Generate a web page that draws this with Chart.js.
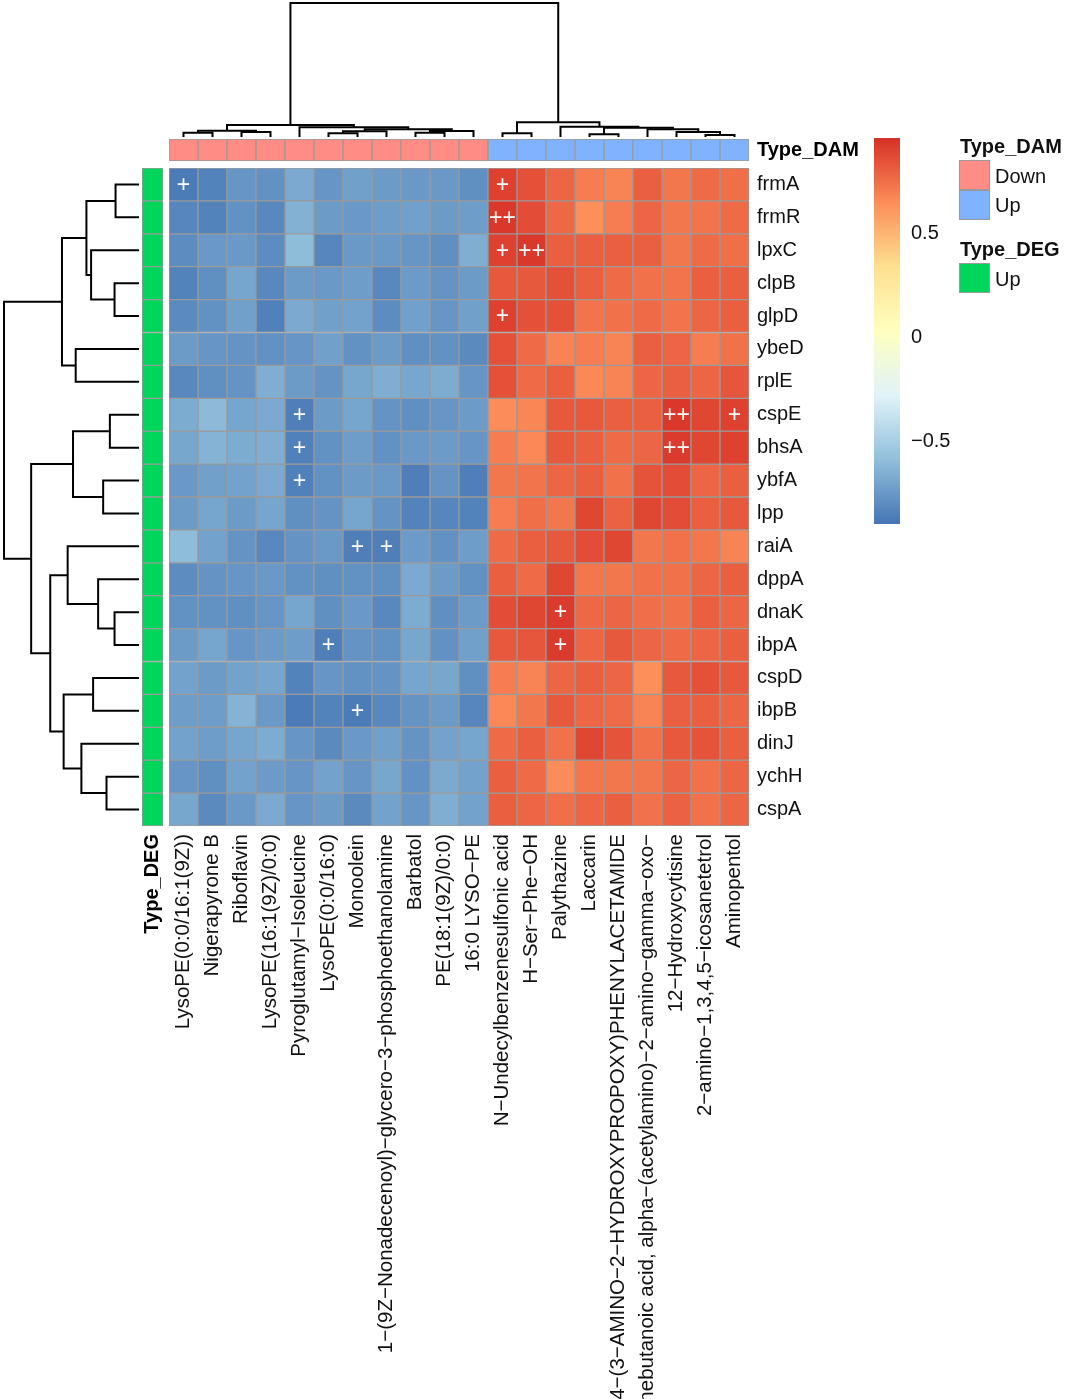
<!DOCTYPE html>
<html>
<head>
<meta charset="utf-8">
<script src="https://cdn.jsdelivr.net/npm/chart.js@4.4.1/dist/chart.umd.min.js"></script>
<style>
    html, body { margin: 0; padding: 0; background: #fff; }
    body { width: 1080px; height: 1399px; position: relative; overflow: hidden;
           font-family: 'Liberation Sans', Arial, Helvetica, sans-serif; color: #111; }
    .box { position: absolute; }
    .lg-title { position: absolute; font-weight: bold; font-size: 20px; line-height: 24px; }
    .lg-key { position: absolute; width: 29px; height: 28px; border: 1px solid #9a9a9a; }
    .lg-text { position: absolute; font-size: 20px; line-height: 24px; }
</style>
</head>
<body>

<div class="box" style="left:169px; top:0px;"><canvas id="topDendro" width="580" height="137"></canvas></div>
<div class="box" style="left:0px; top:168px;"><canvas id="leftDendro" width="139" height="658"></canvas></div>
<div class="box" style="left:169px; top:133px;"><canvas id="damBar" width="700" height="34"></canvas></div>
<div class="box" style="left:132px; top:168px;"><canvas id="degBar" width="41" height="1231"></canvas></div>
<div class="box" style="left:169px; top:168px;"><canvas id="heatmap" width="700" height="1231"></canvas></div>
<div class="box" style="left:874px; top:138px;"><canvas id="colorBar" width="92" height="386"></canvas></div>

<div class="lg-title" style="left:960px; top:134px;">Type_DAM</div>
<div class="lg-key" style="left:959px; top:160px; background:#FF8C85;"></div>
<div class="lg-text" style="left:995px; top:164px;">Down</div>
<div class="lg-key" style="left:959px; top:190px; background:#80B3FF;"></div>
<div class="lg-text" style="left:995px; top:193px;">Up</div>
<div class="lg-title" style="left:960px; top:237px;">Type_DEG</div>
<div class="lg-key" style="left:959px; top:263px; background:#00D65C;"></div>
<div class="lg-text" style="left:995px; top:267px;">Up</div>

<script>
// 数据
const colNames = [
    'LysoPE(0:0/16:1(9Z))', 'Nigerapyrone B', 'Riboflavin', 'LysoPE(16:1(9Z)/0:0)',
    'Pyroglutamyl\u2212Isoleucine', 'LysoPE(0:0/16:0)', 'Monoolein',
    '1\u2212(9Z\u2212Nonadecenoyl)\u2212glycero\u22123\u2212phosphoethanolamine', 'Barbatol',
    'PE(18:1(9Z)/0:0)', '16:0 LYSO\u2212PE', 'N\u2212Undecylbenzenesulfonic acid',
    'H\u2212Ser\u2212Phe\u2212OH', 'Palythazine', 'Laccarin',
    '4\u2212(3\u2212AMINO\u22122\u2212HYDROXYPROPOXY)PHENYLACETAMIDE',
    'Benzenebutanoic acid, alpha\u2212(acetylamino)\u22122\u2212amino\u2212gamma\u2212oxo\u2212',
    '12\u2212Hydroxycytisine', '2\u2212amino\u22121,3,4,5\u2212icosanetetrol', 'Aminopentol'
];
const rowNames = ['frmA', 'frmR', 'lpxC', 'clpB', 'glpD', 'ybeD', 'rplE', 'cspE', 'bhsA', 'ybfA',
    'lpp', 'raiA', 'dppA', 'dnaK', 'ibpA', 'cspD', 'ibpB', 'dinJ', 'ychH', 'cspA'];
const damType = ['Down', 'Down', 'Down', 'Down', 'Down', 'Down', 'Down', 'Down', 'Down', 'Down', 'Down',
    'Up', 'Up', 'Up', 'Up', 'Up', 'Up', 'Up', 'Up', 'Up'];
const degType = rowNames.map(() => 'Up');

// 每行一个基因，每列一个代谢物 (相关系数)
const cellValues = [
    [-0.87, -0.84, -0.76, -0.78, -0.68, -0.76, -0.72, -0.74, -0.75, -0.75, -0.79, 0.90, 0.85, 0.78, 0.70, 0.68, 0.80, 0.72, 0.76, 0.75],
    [-0.83, -0.84, -0.78, -0.82, -0.65, -0.74, -0.75, -0.73, -0.72, -0.74, -0.73, 0.93, 0.86, 0.77, 0.64, 0.70, 0.78, 0.72, 0.73, 0.76],
    [-0.80, -0.75, -0.75, -0.80, -0.60, -0.83, -0.75, -0.75, -0.76, -0.79, -0.66, 0.90, 0.93, 0.80, 0.80, 0.80, 0.80, 0.72, 0.76, 0.75],
    [-0.84, -0.79, -0.70, -0.82, -0.74, -0.75, -0.73, -0.82, -0.74, -0.77, -0.74, 0.82, 0.82, 0.85, 0.80, 0.76, 0.74, 0.73, 0.80, 0.80],
    [-0.81, -0.78, -0.72, -0.85, -0.68, -0.72, -0.71, -0.80, -0.72, -0.76, -0.72, 0.90, 0.85, 0.85, 0.73, 0.74, 0.76, 0.73, 0.78, 0.80],
    [-0.74, -0.76, -0.77, -0.78, -0.76, -0.72, -0.78, -0.74, -0.79, -0.78, -0.81, 0.85, 0.76, 0.68, 0.70, 0.68, 0.80, 0.78, 0.70, 0.74],
    [-0.82, -0.79, -0.77, -0.66, -0.74, -0.77, -0.69, -0.66, -0.69, -0.67, -0.76, 0.85, 0.76, 0.80, 0.66, 0.68, 0.78, 0.80, 0.78, 0.83],
    [-0.67, -0.61, -0.70, -0.68, -0.86, -0.74, -0.70, -0.77, -0.79, -0.76, -0.74, 0.65, 0.67, 0.82, 0.82, 0.80, 0.80, 0.93, 0.88, 0.90],
    [-0.69, -0.64, -0.67, -0.66, -0.85, -0.78, -0.73, -0.78, -0.75, -0.74, -0.76, 0.70, 0.66, 0.82, 0.80, 0.76, 0.78, 0.92, 0.88, 0.90],
    [-0.75, -0.72, -0.71, -0.68, -0.85, -0.78, -0.74, -0.75, -0.86, -0.77, -0.86, 0.72, 0.73, 0.78, 0.80, 0.74, 0.84, 0.86, 0.78, 0.80],
    [-0.74, -0.70, -0.74, -0.70, -0.79, -0.77, -0.70, -0.77, -0.84, -0.83, -0.84, 0.70, 0.75, 0.72, 0.88, 0.79, 0.88, 0.86, 0.80, 0.82],
    [-0.60, -0.71, -0.77, -0.82, -0.77, -0.75, -0.86, -0.86, -0.74, -0.78, -0.73, 0.76, 0.80, 0.82, 0.86, 0.88, 0.72, 0.74, 0.72, 0.68],
    [-0.80, -0.77, -0.76, -0.75, -0.78, -0.79, -0.78, -0.79, -0.68, -0.74, -0.78, 0.80, 0.76, 0.88, 0.72, 0.72, 0.74, 0.74, 0.78, 0.80],
    [-0.78, -0.78, -0.79, -0.76, -0.70, -0.79, -0.75, -0.82, -0.67, -0.79, -0.74, 0.86, 0.88, 0.92, 0.77, 0.78, 0.75, 0.74, 0.80, 0.78],
    [-0.74, -0.70, -0.76, -0.74, -0.73, -0.86, -0.77, -0.78, -0.69, -0.78, -0.72, 0.82, 0.83, 0.92, 0.78, 0.82, 0.78, 0.76, 0.78, 0.80],
    [-0.71, -0.74, -0.71, -0.70, -0.84, -0.76, -0.78, -0.77, -0.70, -0.69, -0.79, 0.70, 0.68, 0.78, 0.80, 0.78, 0.64, 0.82, 0.85, 0.82],
    [-0.73, -0.73, -0.64, -0.75, -0.87, -0.84, -0.87, -0.82, -0.77, -0.74, -0.83, 0.66, 0.72, 0.82, 0.78, 0.76, 0.68, 0.80, 0.80, 0.78],
    [-0.71, -0.73, -0.70, -0.67, -0.76, -0.81, -0.75, -0.72, -0.77, -0.71, -0.70, 0.76, 0.80, 0.74, 0.88, 0.84, 0.74, 0.82, 0.84, 0.80],
    [-0.76, -0.79, -0.71, -0.74, -0.76, -0.71, -0.76, -0.69, -0.78, -0.68, -0.71, 0.80, 0.76, 0.65, 0.72, 0.72, 0.72, 0.78, 0.74, 0.78],
    [-0.69, -0.81, -0.75, -0.68, -0.76, -0.74, -0.81, -0.71, -0.76, -0.66, -0.71, 0.80, 0.78, 0.75, 0.78, 0.80, 0.74, 0.79, 0.74, 0.78]
];

// 显著性标记: [行, 列, 文本]
const cellMarks = [
    [0, 0, '+'], [0, 11, '+'], [1, 11, '++'], [2, 11, '+'], [2, 12, '++'], [4, 11, '+'],
    [7, 4, '+'], [7, 17, '++'], [7, 19, '+'], [8, 4, '+'], [8, 17, '++'], [9, 4, '+'],
    [11, 6, '+'], [11, 7, '+'], [13, 13, '+'], [14, 5, '+'], [14, 13, '+'], [16, 6, '+']
];

// 聚类树 (hclust 格式: 负数=叶, 正数=之前的合并, 高度)
const colMerges = [
    [-19, -20, 2.0], [-15, -16, 2.7], [-6, -7, 3.7], [-12, -13, 3.7], [-1, -2, 4.3],
    [-9, -10, 4.3], [-3, -4, 5.0], [-18, 1, 5.0], [3, -8, 5.7], [6, -11, 6.0],
    [5, 7, 6.3], [9, 10, 7.7], [-17, 8, 7.7], [-5, 12, 9.7], [2, 13, 9.3],
    [-14, 15, 10.3], [11, 14, 12.0], [4, 16, 14.7], [17, 18, 134]
];
const rowMerges = [
    [-1, -2, 70], [-4, -5, 73], [-14, -15, 73], [-8, -9, 87], [-19, -20, 97],
    [-10, -11, 107], [-13, 3, 122], [-16, -17, 137], [-3, 2, 143], [1, 9, 157],
    [-18, 5, 172], [-6, -7, 189], [4, 6, 197], [-12, 7, 213], [8, 11, 225],
    [10, 12, 230], [14, 15, 265], [13, 17, 322], [16, 18, 403]
];

const colorTicks = [-0.5, 0, 0.5];
const scaleMin = -0.899;
const scaleMax = 0.957;
const palette = ['#4575B4', '#91BFDB', '#E0F3F8', '#FFFFBF', '#FEE090', '#FC8D59', '#D73027'];
const damColors = { Down: '#FF8C85', Up: '#80B3FF' };
const degColors = { Up: '#00D65C' };
const cellBorder = '#9a9a9a';

Chart.defaults.font.family = "'Liberation Sans', Arial, Helvetica, sans-serif";
Chart.defaults.color = '#111';
Chart.defaults.animation = false;
Chart.defaults.plugins.legend.display = false;
Chart.defaults.plugins.tooltip.enabled = false;

function hexToRgb(h) {
    return [1, 3, 5].map(i => parseInt(h.slice(i, i + 2), 16));
}

function valueColor(v) {
    const t = Math.min(1, Math.max(0, (v - scaleMin) / (scaleMax - scaleMin))) * (palette.length - 1);
    const i = Math.min(Math.floor(t), palette.length - 2);
    const f = t - i;
    const a = hexToRgb(palette[i]), b = hexToRgb(palette[i + 1]);
    const c = a.map((x, k) => Math.round(x + (b[k] - x) * f));
    return `rgb(${c[0]},${c[1]},${c[2]})`;
}

// 轴不要为标签额外留白
function fixAxis(size) {
    return s => {
        if (s.isHorizontal()) s.height = size; else s.width = size;
        s.paddingTop = 0; s.paddingBottom = 0; s.paddingLeft = 0; s.paddingRight = 0;
    };
}

// 把合并列表变成 U 形线段
function dendroSegments(merges) {
    const pos = [], hgt = [];
    const nodePos = ref => ref < 0 ? -ref - 1 : pos[ref - 1];
    const nodeH = ref => ref < 0 ? 0 : hgt[ref - 1];
    return merges.map(([a, b, h]) => {
        const pa = nodePos(a), pb = nodePos(b);
        pos.push((pa + pb) / 2);
        hgt.push(h);
        return [{ p: pa, h: nodeH(a) }, { p: pa, h: h }, { p: pb, h: h }, { p: pb, h: nodeH(b) }];
    });
}

function dendroDataset(points) {
    return {
        data: points,
        showLine: true,
        borderColor: '#000',
        borderWidth: 2,
        pointRadius: 0,
        tension: 0,
        clip: false
    };
}

// 上方聚类树
new Chart(document.getElementById('topDendro'), {
    type: 'scatter',
    data: {
        datasets: dendroSegments(colMerges).map(seg => dendroDataset(seg.map(s => ({ x: s.p, y: s.h }))))
    },
    options: {
        responsive: false,
        layout: { padding: 0 },
        scales: {
            x: { display: false, min: -0.5, max: colNames.length - 0.5 },
            y: { display: false, min: 0, max: 137 }
        }
    }
});

// 左侧聚类树
new Chart(document.getElementById('leftDendro'), {
    type: 'scatter',
    data: {
        datasets: dendroSegments(rowMerges).map(seg => dendroDataset(seg.map(s => ({ x: s.h, y: s.p }))))
    },
    options: {
        responsive: false,
        layout: { padding: 0 },
        scales: {
            x: { display: false, min: 0, max: 415, reverse: true },
            y: { display: false, min: -0.5, max: rowNames.length - 0.5, reverse: true }
        }
    }
});

// Type_DAM 注释条
new Chart(document.getElementById('damBar'), {
    type: 'bar',
    data: {
        labels: colNames,
        datasets: [{
            data: colNames.map(() => 1),
            backgroundColor: damType.map(t => damColors[t]),
            borderColor: cellBorder,
            borderWidth: 1,
            borderSkipped: false,
            barPercentage: 1,
            categoryPercentage: 1
        }]
    },
    options: {
        responsive: false,
        layout: { padding: { top: 6, bottom: 6 } },
        scales: {
            x: { display: false },
            y: { display: false, min: 0, max: 1 },
            y2: {
                type: 'category',
                labels: ['Type_DAM'],
                position: 'right',
                offset: true,
                grid: { display: false, drawTicks: false },
                border: { display: false },
                ticks: { padding: 8, color: '#000', font: { size: 20, weight: 'bold' } },
                afterFit: fixAxis(120)
            }
        }
    }
});

// Type_DEG 注释条
new Chart(document.getElementById('degBar'), {
    type: 'bar',
    data: {
        labels: ['Type_DEG'],
        datasets: rowNames.map((name, r) => ({
            label: name,
            data: [1],
            backgroundColor: degColors[degType[r]],
            borderColor: cellBorder,
            borderWidth: 1,
            borderSkipped: false,
            barPercentage: 1,
            categoryPercentage: 1
        }))
    },
    options: {
        responsive: false,
        layout: { padding: { left: 10, right: 10 } },
        scales: {
            x: {
                stacked: true,
                grid: { display: false, drawTicks: false },
                border: { display: false },
                ticks: { minRotation: 90, maxRotation: 90, padding: 8, color: '#000', font: { size: 20, weight: 'bold' } },
                afterFit: fixAxis(573)
            },
            y: { display: false, stacked: true, min: 0, max: rowNames.length, reverse: true }
        }
    }
});

// 热图
const markPlugin = {
    id: 'cellMarks',
    afterDatasetsDraw(chart) {
        const c = chart.ctx;
        c.save();
        c.fillStyle = '#fff';
        c.font = "23px 'Liberation Sans', Arial, sans-serif";
        c.textAlign = 'center';
        c.textBaseline = 'middle';
        cellMarks.forEach(([r, col, txt]) => {
            const el = chart.getDatasetMeta(r).data[col];
            c.fillText(txt, el.x, (el.y + el.base) / 2 + 1);
        });
        c.restore();
    }
};

new Chart(document.getElementById('heatmap'), {
    type: 'bar',
    data: {
        labels: colNames,
        datasets: rowNames.map((name, r) => ({
            label: name,
            data: colNames.map(() => 1),
            backgroundColor: cellValues[r].map(valueColor),
            borderColor: cellBorder,
            borderWidth: 1,
            borderSkipped: false,
            barPercentage: 1,
            categoryPercentage: 1
        }))
    },
    options: {
        responsive: false,
        layout: { padding: 0 },
        scales: {
            x: {
                stacked: true,
                grid: { display: false, drawTicks: false },
                border: { display: false },
                ticks: { autoSkip: false, minRotation: 90, maxRotation: 90, padding: 8, color: '#111', font: { size: 20.5 } },
                afterFit: fixAxis(573)
            },
            y: { display: false, stacked: true, min: 0, max: rowNames.length, reverse: true },
            y2: {
                type: 'category',
                labels: rowNames,
                position: 'right',
                offset: true,
                grid: { display: false, drawTicks: false },
                border: { display: false },
                ticks: { autoSkip: false, padding: 8, color: '#111', font: { size: 20 } },
                afterFit: fixAxis(120)
            }
        }
    },
    plugins: [markPlugin]
});

// 颜色图例条
new Chart(document.getElementById('colorBar'), {
    type: 'bar',
    data: {
        labels: [''],
        datasets: [{
            data: [[scaleMin, scaleMax]],
            backgroundColor: ctx => {
                const { chartArea, ctx: c, scales } = ctx.chart;
                if (!chartArea) return palette[0];
                const g = c.createLinearGradient(0, scales.y.getPixelForValue(scaleMin), 0, scales.y.getPixelForValue(scaleMax));
                palette.forEach((col, i) => g.addColorStop(i / (palette.length - 1), col));
                return g;
            },
            borderWidth: 0,
            barPercentage: 1,
            categoryPercentage: 1
        }]
    },
    options: {
        responsive: false,
        layout: { padding: 0 },
        scales: {
            x: { display: false },
            y: {
                min: scaleMin,
                max: scaleMax,
                position: 'right',
                grid: { display: false, drawTicks: false },
                border: { display: false },
                afterBuildTicks: s => { s.ticks = colorTicks.map(v => ({ value: v })); },
                ticks: {
                    padding: 11,
                    color: '#111',
                    font: { size: 20 },
                    callback: v => v === 0 ? '0' : (v < 0 ? '\u2212' + Math.abs(v) : String(v))
                },
                afterFit: fixAxis(66)
            }
        }
    }
});
</script>
</body>
</html>
